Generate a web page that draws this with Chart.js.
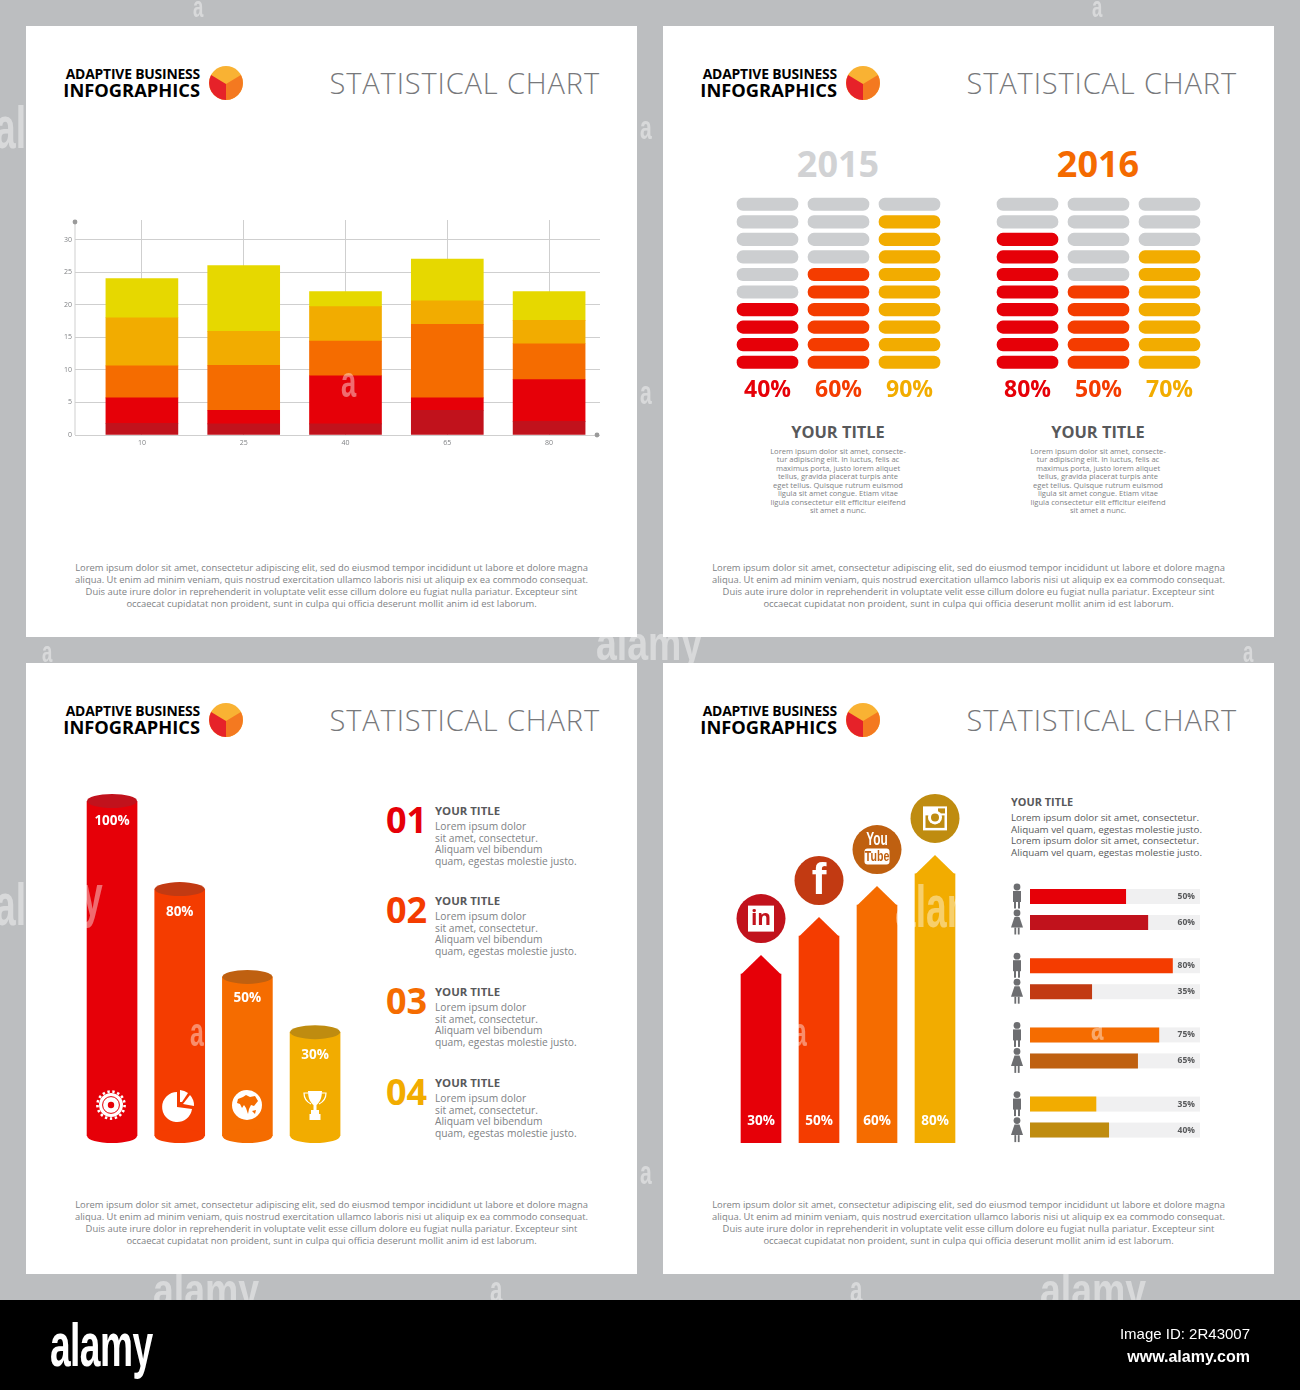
<!DOCTYPE html>
<html><head><meta charset="utf-8">
<script src="https://cdn.jsdelivr.net/npm/chart.js@4"></script>
<style>
html,body{margin:0;padding:0;background:#bcbec0;}
#page{position:relative;width:1300px;height:1390px;overflow:hidden;background:#bcbec0;font-family:"Open Sans",sans-serif;}
.panel{position:absolute;width:611px;height:611px;background:#fff;}
.abs{position:absolute;white-space:nowrap;}
.brand1{left:18px;width:156px;top:39px;text-align:right;font-weight:700;font-size:13.9px;line-height:18px;color:#000;letter-spacing:-.2px;}
.brand2{left:18px;width:156px;top:51px;text-align:right;font-weight:700;font-size:18.3px;line-height:26px;color:#000;}
.stat{right:37px;top:36px;font-size:29px;line-height:42px;font-weight:300;color:#77787b;letter-spacing:.86px;}
.foot{left:0;width:611px;top:536px;text-align:center;font-size:9.42px;line-height:11.9px;color:#808285;}
canvas{position:absolute;display:block;}
.title{font-weight:700;color:#58595b;}
.para{color:#808285;}
#bar{position:absolute;left:0;top:1300px;width:1300px;height:90px;background:#000;color:#fff;z-index:30;}
.wm{position:absolute;color:rgba(255,255,255,.42);font-family:"Liberation Sans",sans-serif;font-weight:700;transform-origin:0 0;white-space:nowrap;z-index:20;line-height:1;}
</style></head>
<body><div id="page">
<div class="panel" style="left:26px;top:26px" data-h></div>
<div class="panel" style="left:663px;top:26px" data-h></div>
<div class="panel" style="left:26px;top:663px" data-h></div>
<div class="panel" style="left:663px;top:663px" data-h></div>

<canvas id="stackChart" width="570" height="250" style="left:30px;top:210px;width:570px;height:250px"></canvas>
<canvas id="pill2015" width="213" height="230" style="left:732px;top:190px;width:213px;height:230px"></canvas>
<canvas id="pill2016" width="213" height="230" style="left:992px;top:190px;width:213px;height:230px"></canvas>
<canvas id="cylChart" width="290" height="380" style="left:70px;top:780px;width:290px;height:380px"></canvas>
<canvas id="arrowChart" width="250" height="380" style="left:725px;top:780px;width:250px;height:380px"></canvas>
<canvas id="hbarChart" width="200" height="285" style="left:1005px;top:870px;width:200px;height:285px"></canvas>

<svg class="abs" style="left:0;top:0;z-index:5" width="1300" height="1390" xmlns="http://www.w3.org/2000/svg">
  <!-- gear -->
  <g transform="translate(111,1105)">
    <circle r="12" fill="#fff"/><circle r="13.6" fill="none" stroke="#fff" stroke-width="2.6" stroke-dasharray="2.4 2.6"/>
    <circle r="8.4" fill="none" stroke="#e60008" stroke-width="1"/><circle r="3.2" fill="#e60008"/>
  </g>
  <!-- pie -->
  <g transform="translate(179,1106)">
    <path d="M-2,-14 A15,15 0 1 0 13,3 L-2,1 Z" fill="#fff"/>
    <path d="M1,-16 A15,15 0 0 1 9,-13 L3,-4 L1,-4 Z" fill="#fff"/>
    <path d="M11,-11 A15,15 0 0 1 15,0 L4,-2 Z" fill="#fff"/>
  </g>
  <!-- globe -->
  <g transform="translate(247,1105)">
    <circle r="15" fill="#fff"/>
    <path d="M-9,-6 L-4,-8 L-1,-10 L3,-8 L8,-9 L11,-4 L7,1 L4,0 L2,4 L1,9 L-1,3 L-3,0 L-5,3 L-7,-1 L-10,-2 Z" fill="#f56c00"/>
    <path d="M5,6 L9,5 L8,9 Z" fill="#f56c00"/>
  </g>
  <!-- trophy -->
  <g transform="translate(315,1105)" fill="#fff">
    <path d="M-7,-14 H7 C7,-6 4,-2 1.5,0 V5 H4 V9 H-4 V5 H-1.5 V0 C-4,-2 -7,-6 -7,-14 Z"/>
    <path d="M-7,-12 H-11 C-11,-7 -8,-3 -4,-1 M7,-12 H11 C11,-7 8,-3 4,-1" fill="none" stroke="#fff" stroke-width="1.2"/>
    <rect x="-5.5" y="9" width="11" height="6"/>
  </g>
</svg>

<div id="bar">
  <div class="abs" style="left:50px;top:12px;font-family:'Liberation Sans';font-weight:700;font-size:62px;line-height:66px;transform:scaleX(.6);transform-origin:0 0;letter-spacing:-1px;">alamy</div>
  <div class="abs" style="right:50px;top:24px;font-family:'Liberation Sans';font-size:15px;line-height:20px;">Image ID: 2R43007</div>
  <div class="abs" style="right:50px;top:47px;font-family:'Liberation Sans';font-weight:700;font-size:16px;line-height:20px;">www.alamy.com</div>
</div>
</div>

<script>
// ---- Data ----
const stackLabels = ['10','25','40','65','80'];
const stackA = [1.8,1.7,1.7,3.8,2.1];
const stackB = [3.9,2.1,7.4,1.9,6.4];
const stackC = [4.9,6.9,5.3,11.3,5.5];
const stackD = [7.4,5.2,5.3,3.6,3.6];
const stackE = [6.0,10.1,2.3,6.4,4.4];
const stackColors = ['#c1121c','#e60008','#f56c00','#f2ac00','#e6d800'];

const pill2015 = [40,60,90];
const pill2016 = [80,50,70];
const pillColors = ['#e60008','#f43c00','#f2ac00'];

const cylNames = ['01','02','03','04'];
const cylHeights = [100,73.7,47.5,31];
const cylLabels = ['100%','80%','50%','30%'];
const cylLabelDrop = [20,23,21,23];
const mainColors = ['#e60008','#f43c00','#f56c00','#f2ac00'];
const cylCaps = ['#c1121c','#c23a12','#bf6010','#bf8c10'];

const arrowNames = ['LinkedIn','Facebook','YouTube','Instagram'];
const arrowHeights = [56.3,69,79.3,89.7];
const arrowLabels = ['30%','50%','60%','80%'];

const groupNames = ['1','2','3','4'];
const menValues = [56.5,84,76,39];
const womenValues = [69.5,36.5,63.5,46.5];
const menLabels = ['50%','80%','75%','35%'];
const womenLabels = ['60%','35%','65%','40%'];
const womenColors = cylCaps;

const loremFoot = ['Lorem ipsum dolor sit amet, consectetur adipiscing elit, sed do eiusmod tempor incididunt ut labore et dolore magna',
 'aliqua. Ut enim ad minim veniam, quis nostrud exercitation ullamco laboris nisi ut aliquip ex ea commodo consequat.',
 'Duis aute irure dolor in reprehenderit in voluptate velit esse cillum dolore eu fugiat nulla pariatur. Excepteur sint',
 'occaecat cupidatat non proident, sunt in culpa qui officia deserunt mollit anim id est laborum.'];
const loremMid = ['Lorem ipsum dolor sit amet, consecte-','tur adipiscing elit. In luctus, felis ac','maximus porta, justo lorem aliquet','tellus, gravida placerat turpis ante','eget tellus. Quisque rutrum euismod','ligula sit amet congue. Etiam vitae','ligula consectetur elit efficitur eleifend','sit amet a nunc.'];
const loremList = ['Lorem ipsum dolor','sit amet, consectetur.','Aliquam vel bibendum','quam, egestas molestie justo.'];
const loremSide = ['Lorem ipsum dolor sit amet, consectetur.','Aliquam vel quam, egestas molestie justo.','Lorem ipsum dolor sit amet, consectetur.','Aliquam vel quam, egestas molestie justo.'];

// ---- Static page text ----
const page = document.getElementById('page');
function addText(html, css, cls){ const d=document.createElement('div'); d.className='abs '+(cls||''); d.style.cssText=css; d.innerHTML=html; page.appendChild(d); return d; }
document.querySelectorAll('.panel').forEach(p=>{
  p.innerHTML = '<div class="abs brand1">ADAPTIVE BUSINESS</div><div class="abs brand2">INFOGRAPHICS</div>'+
   '<svg class="abs" style="left:183px;top:40px" width="34" height="34" viewBox="-17 -17 34 34"><circle r="17" fill="#f9b233"/>'+
   '<path d="M0,1 L0,17 A17,17 0 0 1 -14.9,-8 Z" fill="#e62229"/><path d="M0,1 L0,17 A17,17 0 0 0 14.9,-8 Z" fill="#f47920"/></svg>'+
   '<div class="abs stat">STATISTICAL CHART</div><div class="abs foot">'+loremFoot.join('<br>')+'</div>';
});
addText('2015','left:738px;width:200px;top:141px;text-align:center;font-weight:700;font-size:36px;line-height:46px;color:#d1d2d4;');
addText('2016','left:998px;width:200px;top:141px;text-align:center;font-weight:700;font-size:36px;line-height:46px;color:#f46a00;');
[838,1098].forEach(cx=>{
  addText('YOUR TITLE',`left:${cx-100}px;width:200px;top:421px;text-align:center;font-size:16.4px;line-height:22px;`,'title');
  addText(loremMid.join('<br>'),`left:${cx-100}px;width:200px;top:447px;text-align:center;font-size:7.6px;line-height:8.45px;`,'para');
});
const listTop=[811,901,992,1083];
['01','02','03','04'].forEach((n,i)=>{
  addText(n,`left:386px;top:${listTop[i]-14}px;font-weight:700;font-size:36px;line-height:46px;color:${mainColors[i]};`);
  addText('YOUR TITLE',`left:435px;top:${listTop[i]-8}px;font-size:11.4px;line-height:16px;`,'title');
  addText(loremList.join('<br>'),`left:435px;top:${listTop[i]+10}px;font-size:10.25px;line-height:11.7px;`,'para');
});
addText('YOUR TITLE','left:1011px;top:794px;font-size:10.9px;line-height:16px;','title');
addText(loremSide.join('<br>'),'left:1011px;top:812px;font-size:9.8px;line-height:11.6px;color:#58595b;');

// watermark fragments: text, x, y, font size, horizontal scale
const marks = [['alamy',153,1267,48,.78],['a',490,1272,36,.62],['a',850,1272,36,.62],['alamy',1040,1267,48,.78],
 ['alamy',596,620,48,.78],['a',193,-8,30,.62],['a',1092,-8,30,.62],['a',42,637,30,.62],['a',1243,637,30,.62],
 ['a',640,110,34,.62],['a',640,375,34,.62],['a',640,1155,34,.62],['al',-5,98,60,.62],
 ['al',-5,875,60,.62],['y',82,866,60,.62],['a',341,360,44,.62],['a',190,1012,40,.62],['a',793,1012,40,.62],
 ['alamy',895,877,60,.62],['a',1091,1010,36,.62]];
marks.forEach(m=>{ const d=document.createElement('div'); d.className='wm'; d.textContent=m[0];
  d.style.left=m[1]+'px'; d.style.top=m[2]+'px'; d.style.fontSize=m[3]+'px'; d.style.transform='scaleX('+m[4]+')'; page.appendChild(d); });

// ---- Charts ----
Chart.defaults.font.family = '"Open Sans", sans-serif';
const base = {responsive:false, animation:false, plugins:{legend:{display:false},tooltip:{enabled:false}}};
const hidden = {display:false};

// 1. stacked bars
const axisEnds = {id:'axisEnds', afterDraw(c){
  const g=c.ctx, y=c.scales.y, a=c.chartArea, x0=a.left-16;
  g.save(); g.strokeStyle='#cfcfcf'; g.lineWidth=1; g.beginPath(); g.moveTo(x0,y.getPixelForValue(y.max)+2); g.lineTo(x0,y.getPixelForValue(0)); g.stroke();
  g.fillStyle='#9a9a9a';
  g.beginPath(); g.arc(x0,y.getPixelForValue(y.max)+2,2.4,0,7); g.fill();
  g.beginPath(); g.arc(a.right-3,y.getPixelForValue(0),2.4,0,7); g.fill(); g.restore();
}};
new Chart('stackChart',{type:'bar',data:{labels:stackLabels,datasets:[stackA,stackB,stackC,stackD,stackE].map((d,i)=>({label:'S'+i,data:d,backgroundColor:stackColors[i],barThickness:72}))},
 options:{...base,layout:{padding:{top:10}},scales:{
  x:{stacked:true,afterFit(s){s.height=25;},grid:{offset:false,color:'#cfcfcf',drawTicks:false},border:{color:'#cfcfcf'},ticks:{color:'#808285',font:{size:7},padding:4}},
  y:{stacked:true,min:0,max:33,afterFit(s){s.width=61;},grid:{color:'#cfcfcf',tickLength:16,tickColor:'#cfcfcf'},border:{display:false},ticks:{stepSize:5,includeBounds:false,color:'#808285',font:{size:7},padding:3}}
 }},plugins:[axisEnds]});

// 2. pill columns
function pillChart(id,values){
  const datasets=[];
  for(let level=0;level<10;level++){
    datasets.push({label:'L'+level,grouped:false,barThickness:61,borderSkipped:false,borderRadius:6.5,
      data:values.map(()=>[level*10+1.45,level*10+8.55]),
      backgroundColor:values.map((v,i)=>v>level*10?pillColors[i]:'#ccced0')});
  }
  new Chart(id,{type:'bar',data:{labels:values.map(v=>v+'%'),datasets},options:{...base,layout:{padding:{top:5.5}},scales:{
    x:{afterFit(s){s.height=49;},grid:{display:false},border:{display:false},ticks:{padding:-2,font:{size:23,weight:'700'},color:c=>pillColors[c.index]}},
    y:{display:false,min:0,max:100}}}});
}
pillChart('pill2015',pill2015);
pillChart('pill2016',pill2016);

// 3. cylinders
const cylDeco={id:'cylDeco',afterDatasetsDraw(c){
  const g=c.ctx; g.save();
  c.getDatasetMeta(0).data.forEach((b,i)=>{
    g.fillStyle=mainColors[i]; g.beginPath(); g.ellipse(b.x,b.base,25,7,0,0,7); g.fill();
    g.fillStyle=cylCaps[i]; g.beginPath(); g.ellipse(b.x,b.y,25,7,0,0,7); g.fill();
    g.fillStyle='#fff'; g.font='700 13.5px "Open Sans"'; g.textAlign='center'; g.textBaseline='middle';
    g.fillText(cylLabels[i],b.x,b.y+cylLabelDrop[i]);
  }); g.restore();
}};
new Chart('cylChart',{type:'bar',data:{labels:cylNames,datasets:[{data:cylHeights,backgroundColor:mainColors,barThickness:50}]},
 options:{...base,layout:{padding:{left:8.2,right:11.1,top:21,bottom:24}},scales:{x:hidden,y:{display:false,min:0,max:100}}},plugins:[cylDeco]});

// 4. arrows
function iconDraw(g,i,x,y){
  g.fillStyle='#fff'; g.textAlign='center'; g.textBaseline='middle';
  if(i===0){ g.fillRect(x-13,y-13,26,26); g.fillStyle=cylCaps[0]; g.font='700 21px "Open Sans"'; g.fillText('in',x,y); }
  if(i===1){ g.font='700 44px "Liberation Sans"'; g.fillText('f',x,y+1); }
  if(i===2){ g.font='700 14px "Liberation Sans"'; g.save(); g.translate(x,y-9); g.scale(.85,1.25); g.fillText('You',0,0); g.restore();
    g.beginPath(); g.roundRect(x-12.5,y-1,25,16,3); g.fill(); g.fillStyle=cylCaps[2]; g.save(); g.translate(x,y+7); g.scale(.85,1.2); g.font='700 12.5px "Liberation Sans"'; g.fillText('Tube',0,0); g.restore(); }
  if(i===3){ g.fillRect(x-12,y-12,24,24); g.fillStyle=cylCaps[3]; g.fillRect(x-9.5,y-3,19,12.5); g.fillRect(x+3,y-10,7,5);
    g.fillStyle='#fff'; g.beginPath(); g.arc(x,y-1,7,0,7); g.fill(); g.fillStyle=cylCaps[3]; g.beginPath(); g.arc(x,y-1,4,0,7); g.fill(); }
}
const arrowDeco={id:'arrowDeco',afterDatasetsDraw(c){
  const g=c.ctx; g.save();
  c.getDatasetMeta(0).data.forEach((b,i)=>{
    const w=20, h=19;
    g.fillStyle=mainColors[i]; g.beginPath(); g.moveTo(b.x-w,b.y+.5); g.lineTo(b.x,b.y-h); g.lineTo(b.x+w,b.y+.5); g.closePath(); g.fill();
    const cy=b.y-h-36.5;
    g.fillStyle=cylCaps[i]; g.beginPath(); g.arc(b.x,cy,24.5,0,7); g.fill();
    iconDraw(g,i,b.x,cy);
    g.fillStyle='#fff'; g.font='700 13.5px "Open Sans"'; g.textAlign='center'; g.textBaseline='middle';
    g.fillText(arrowLabels[i],b.x,b.base-22);
  }); g.restore();
}};
new Chart('arrowChart',{type:'bar',data:{labels:arrowNames,datasets:[{data:arrowHeights,backgroundColor:mainColors,barThickness:40}]},
 options:{...base,layout:{padding:{left:7,right:11,top:63,bottom:17}},scales:{x:hidden,y:{display:false,min:0,max:100}}},plugins:[arrowDeco]});

// 5. horizontal bars
function person(g,x,y,woman){
  g.fillStyle='#6d6e71';
  g.beginPath(); g.arc(x,y-9.5,3.4,0,7); g.fill();
  if(woman){
    g.beginPath(); g.moveTo(x-2.5,y-5.5); g.lineTo(x+2.5,y-5.5); g.lineTo(x+6,y+5); g.lineTo(x-6,y+5); g.closePath(); g.fill();
    g.fillRect(x-2.6,y+5,1.8,7); g.fillRect(x+.8,y+5,1.8,7);
  } else {
    g.fillRect(x-4,y-5.5,8,11); g.fillRect(x-3,y+5,2,7); g.fillRect(x+1,y+5,2,7);
  }
}
const hbarTrack={id:'hbarTrack',beforeDatasetsDraw(c){
  const g=c.ctx,a=c.chartArea; g.save(); g.fillStyle='#f0f0f1';
  c.data.datasets.forEach((d,di)=>c.getDatasetMeta(di).data.forEach(b=>g.fillRect(a.left,b.y-7.5,a.right-a.left,15)));
  g.restore();
},afterDatasetsDraw(c){
  const g=c.ctx,a=c.chartArea; g.save();
  [menLabels,womenLabels].forEach((labs,di)=>c.getDatasetMeta(di).data.forEach((b,i)=>{
    g.fillStyle='#58595b'; g.font='700 8.5px "Open Sans"'; g.textAlign='right'; g.textBaseline='middle';
    g.fillText(labs[i],a.right-5,b.y);
    person(g,a.left-13,b.y,di===1);
  })); g.restore();
}};
new Chart('hbarChart',{type:'bar',data:{labels:groupNames,datasets:[
  {label:'Men',data:menValues,backgroundColor:mainColors,categoryPercentage:.7514,barPercentage:.577},
  {label:'Women',data:womenValues,backgroundColor:womenColors,categoryPercentage:.7514,barPercentage:.577}]},
 options:{...base,indexAxis:'y',layout:{padding:{left:25,right:5,top:4.9,bottom:3.3}},scales:{x:{display:false,min:0,max:100},y:hidden}},plugins:[hbarTrack]});
</script>
</body></html>
